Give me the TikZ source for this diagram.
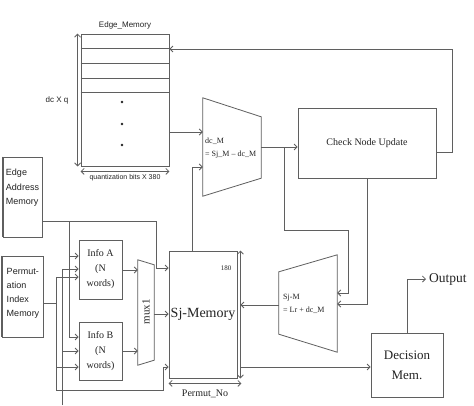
\documentclass[tikz,border=0pt]{standalone}
\usepackage{fontspec}
\setmainfont{Liberation Serif}
\newfontfamily\gsans{Liberation Sans}
\usetikzlibrary{arrows.meta,calc}
\definecolor{lc}{RGB}{95,95,95}
\definecolor{tc}{RGB}{35,35,35}
\tikzset{
  ln/.style={draw=lc, line width=0.8bp},
  arr/.style={ln, -{Straight Barb[length=3bp,width=6bp]}},
  dimarr/.style={ln, {Straight Barb[length=3bp,width=6bp]}-{Straight Barb[length=3bp,width=6bp]}},
  box/.style={draw=lc, line width=0.8bp, inner sep=0pt, align=center, text=tc},
  ghost/.style={inner sep=0pt},
  lbl/.style={text=tc, inner sep=0pt},
  sans/.style={font=\gsans\fontsize{#1bp}{#1bp}\selectfont},
  serif/.style={font=\fontsize{#1bp}{#1bp}\selectfont}
}
\begin{document}
\begin{tikzpicture}[x=1bp,y=-1bp]
\useasboundingbox (0,0) rectangle (474,405);
\fill[white] (0,0) rectangle (474,405);

% Edge memory
\node[box, minimum width=88bp, minimum height=132bp] (em) at (125,100) {};
\foreach \yy in {48,63,78,92} \draw[ln] (em.west |- 0,\yy) -- (em.east |- 0,\yy);
\foreach \yy in {102,124,145} \fill[tc] (122,\yy) circle (1.4bp);
\node[lbl, sans=8] (emt) at (125,25) {Edge\_Memory};
\draw[dimarr] ($(em.north west)+(-3,0)$) -- ($(em.south west)+(-3,0)$);
\node[lbl, sans=8] (dcq) at (57,100) {dc X q};
\draw[dimarr] ($(em.south west)+(0,5)$) -- ($(em.south east)+(0,5)$);
\node[lbl, sans=7] (qb) at (125,178) {quantization bits X 380};

% Check node update
\node[box, minimum width=138bp, minimum height=70bp, serif=10] (cnu) at (367,143) {Check Node Update};

% dc_M trapezoid
\node[ghost, minimum width=58bp, minimum height=98bp] (dcm) at (232,147) {};
\draw[ln] (dcm.north west) -- ($(dcm.north east)+(0,19)$) -- ($(dcm.south east)+(0,-18)$) -- (dcm.south west) -- cycle;
\node[lbl, anchor=west, align=left, font=\fontsize{8bp}{13bp}\selectfont] (dct) at (205,148) {dc\_M\\= Sj\_M – dc\_M};

% Sj-M trapezoid
\node[ghost, minimum width=58bp, minimum height=97bp] (sjm) at (308,303.5) {};
\draw[ln] ($(sjm.north west)+(0,17)$) -- (sjm.north east) -- (sjm.south east) -- ($(sjm.south west)+(0,-18)$) -- cycle;
\node[lbl, anchor=west, align=left, font=\fontsize{8bp}{13bp}\selectfont] (sjt) at (283,304) {Sj-M\\= Lr + dc\_M};

% Sj-Memory
\node[box, minimum width=68bp, minimum height=127bp, serif=14] (sj) at (203,314.5) {Sj-Memory};
\coordinate (sjd) at ($(sj.east)+(3,0)$);
\draw[dimarr] (sjd |- sj.north) -- (sjd |- sj.south);
\node[lbl, serif=7] (n180) at (226,268) {180};
\draw[dimarr] ($(sj.south west)+(0,5)$) -- ($(sj.south east)+(4,5)$);
\node[lbl, serif=10] (pno) at (205,394) {Permut\_No};

% Decision
\node[box, minimum width=72bp, minimum height=64bp, font=\fontsize{13bp}{20bp}\selectfont] (dec) at (407,365) {Decision\\Mem.};
\node[lbl, anchor=west, serif=13.5] (out) at (429,279) {Output};

% Edge Address Memory
\node[box, minimum width=39bp, minimum height=80bp] (ea) at (22.5,197) {};
\draw[draw=lc, line width=1.6bp] (ea.north west) -- (ea.south west);
\node[lbl, align=left, font=\gsans\fontsize{9bp}{14.5bp}\selectfont] (eat) at (22.5,188) {Edge\\Address\\Memory};

% Permutation Index Memory
\node[box, minimum width=41bp, minimum height=81bp] (pi) at (22.5,296.5) {};
\draw[draw=lc, line width=1.6bp] (pi.north west) -- (pi.south west);
\node[lbl, align=left, font=\gsans\fontsize{9bp}{14bp}\selectfont] (pit) at (23,293.5) {Permut-\\ation\\Index\\Memory};

% Info A / B
\node[box, minimum width=43bp, minimum height=59bp, font=\fontsize{10bp}{15bp}\selectfont] (ia) at (100.5,269.5) {Info A\\(N\\words)};
\node[box, minimum width=43bp, minimum height=58bp, font=\fontsize{10bp}{15bp}\selectfont] (ib) at (100.5,351) {Info B\\(N\\words)};

% mux
\node[ghost, minimum width=16bp, minimum height=105bp] (mux) at (146,312.5) {};
\draw[ln] (mux.north west) -- ($(mux.north east)+(0,5)$) -- ($(mux.south east)+(0,-5)$) -- (mux.south west) -- cycle;
\node[lbl, rotate=90, serif=11] (muxt) at (146,312) {mux1};

% connectors, right part
\coordinate (br) at (284,147);
\draw[arr] ($(cnu.east)+(0,9)$) -| (452,49) -- (em.east |- 0,49);
\draw[arr] (em.east |- 0,132) -- (dcm.west |- 0,132);
\draw[arr] (sj.north -| 192,0) |- (dcm.west |- 0,167);
\draw[arr] (dcm.east |- 0,147) -- (cnu.west |- 0,147);
\draw[arr] (br) -- (br |- 0,230) -| (348,293) -- (sjm.east |- 0,293);
\draw[arr] (cnu.south) |- (sjm.east |- 0,304);
\draw[arr] (sjm.west |- 0,305) -- (sjd |- 0,305);
\draw[arr] (sjd |- 0,367) -- (dec.west |- 0,367);
\draw[arr] (dec.north) |- ($(out.west)+(-3,0)$);

% connectors, left part
\draw[arr] (ea.east |- 0,221) -| (156,268) -- (sj.west |- 0,268);
\draw[arr] (69,221) |- (ib.west |- 0,337);
\draw[arr] (69,256) -- (ia.west |- 0,256);
\draw[ln] (pi.east |- 0,303) -- (56,303);
\draw[arr] (56,277) -- (ia.west |- 0,277);
\draw[arr] (56,277) -- (56,390) -| (163,367) -- (sj.west |- 0,367);
\draw[arr] (56,367) -- (ib.west |- 0,367);
\draw[arr] (62,405) |- (ia.west |- 0,269);
\draw[arr] (62,351) -- (ib.west |- 0,351);
\draw[arr] (ia.east |- 0,270) -- (mux.west |- 0,270);
\draw[arr] (ib.east |- 0,351) -- (mux.west |- 0,351);
\draw[arr] (mux.east |- 0,314) -- (sj.west |- 0,314);
\end{tikzpicture}
\end{document}
